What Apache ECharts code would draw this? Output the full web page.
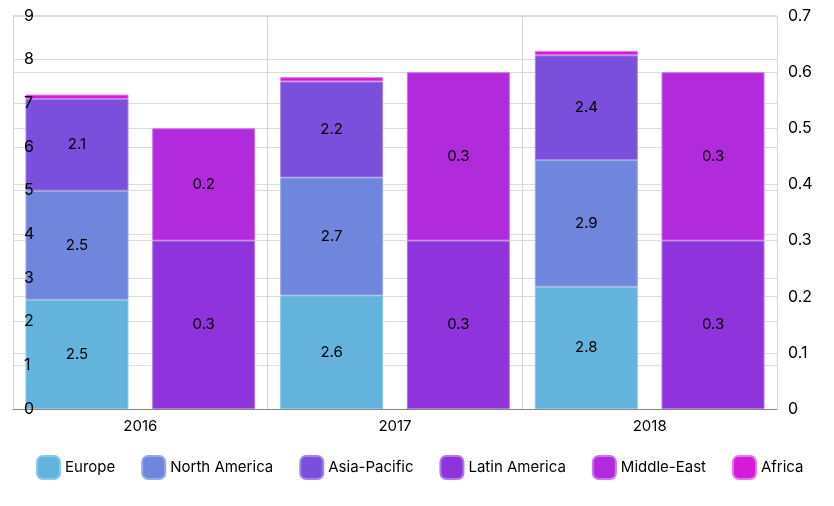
<!DOCTYPE html>
<html>
<head>
<meta charset="utf-8">
<script src="https://cdn.jsdelivr.net/npm/echarts@6/dist/echarts.min.js"></script>
<style>
html,body{margin:0;padding:0;background:#fff;}
#chart{width:834px;height:506px;}
</style>
</head>
<body>
<div id="chart"></div>
<script>
const categories = ['2016', '2017', '2018'];
const europe = [2.5, 2.6, 2.8];
const northAmerica = [2.5, 2.7, 2.9];
const asiaPacific = [2.1, 2.2, 2.4];
const latinAmerica = [0.3, 0.3, 0.3];
const middleEast = [0.2, 0.3, 0.3];
const africa = [0.1, 0.1, 0.1];
const leftTicks = {min: 0, max: 9, interval: 1};
const rightTicks = {min: 0, max: 0.7, interval: 0.1};

const FONT = 'Inter, "Noto Sans", sans-serif';
const colors = {
  'Europe': '#63b3dc',
  'North America': '#6f86dc',
  'Asia-Pacific': '#7a4fdc',
  'Latin America': '#8f34dc',
  'Middle-East': '#b12adc',
  'Africa': '#d51ad8'
};
const borders = {
  'Europe': '#8cc9e6',
  'North America': '#98aae6',
  'Asia-Pacific': '#a187e6',
  'Latin America': '#b17ae6',
  'Middle-East': '#cb78e6',
  'Africa': '#e278e3'
};

function mk(name, data, stack, axis, showLabel) {
  return {
    name: name,
    type: 'bar',
    stack: stack,
    yAxisIndex: axis,
    data: data,
    barWidth: 103,
    barGap: '23%',
    itemStyle: {color: colors[name], borderColor: borders[name], borderWidth: 1},
    label: {
      show: showLabel,
      position: 'inside',
      color: '#000',
      fontSize: 15,
      fontFamily: FONT
    },
    emphasis: {disabled: true}
  };
}

const chart = echarts.init(document.getElementById('chart'), null, {renderer: 'canvas'});
chart.setOption({
  animation: false,
  color: Object.values(colors),
  grid: {left: 13, right: 57, top: 16, bottom: 97, containLabel: false},
  legend: {
    left: 31,
    top: 450,
    itemWidth: 23,
    itemHeight: 23,
    itemGap: 26,
    icon: 'roundRect',
    textStyle: {fontSize: 15, color: '#000', fontFamily: FONT},
    data: ['Europe', 'North America', 'Asia-Pacific', 'Latin America', 'Middle-East', 'Africa']
  },
  xAxis: {
    type: 'category',
    data: categories,
    axisLine: {show: true, lineStyle: {color: '#888'}},
    axisTick: {show: false},
    splitLine: {show: true, lineStyle: {color: '#d5d5d5'}},
    axisLabel: {fontSize: 15, color: '#000', fontFamily: FONT, margin: 10}
  },
  yAxis: [
    {
      type: 'value',
      min: leftTicks.min, max: leftTicks.max, interval: leftTicks.interval,
      axisLine: {show: true, lineStyle: {color: '#d5d5d5'}},
      axisTick: {show: false},
      splitLine: {show: true, lineStyle: {color: '#dcdcdc'}},
      axisLabel: {show: false}
    },
    {
      type: 'value',
      min: rightTicks.min, max: rightTicks.max, interval: rightTicks.interval,
      position: 'right',
      axisLine: {show: false},
      axisTick: {show: false},
      splitLine: {show: true, lineStyle: {color: '#dcdcdc'}},
      axisLabel: {margin: 11, fontSize: 16, color: '#000', fontFamily: FONT,
        formatter: v => String(Math.round(v * 10) / 10)}
    },
    {
      type: 'value',
      min: leftTicks.min, max: leftTicks.max, interval: leftTicks.interval,
      position: 'left',
      z: 10,
      axisLine: {show: false},
      axisTick: {show: false},
      splitLine: {show: false},
      axisLabel: {inside: true, margin: 11, fontSize: 16, color: '#000', fontFamily: FONT}
    }
  ],
  series: [
    mk('Europe', europe, 'a', 0, true),
    mk('North America', northAmerica, 'a', 0, true),
    mk('Asia-Pacific', asiaPacific, 'a', 0, true),
    mk('Latin America', latinAmerica, 'b', 1, true),
    mk('Middle-East', middleEast, 'b', 1, true),
    mk('Africa', africa, 'a', 0, false)
  ],
  graphic: [
    {type: 'line', shape: {x1: 13, y1: 16, x2: 777, y2: 16}, style: {stroke: '#bbb', lineWidth: 1}, silent: true}
  ]
});
</script>
</body>
</html>
